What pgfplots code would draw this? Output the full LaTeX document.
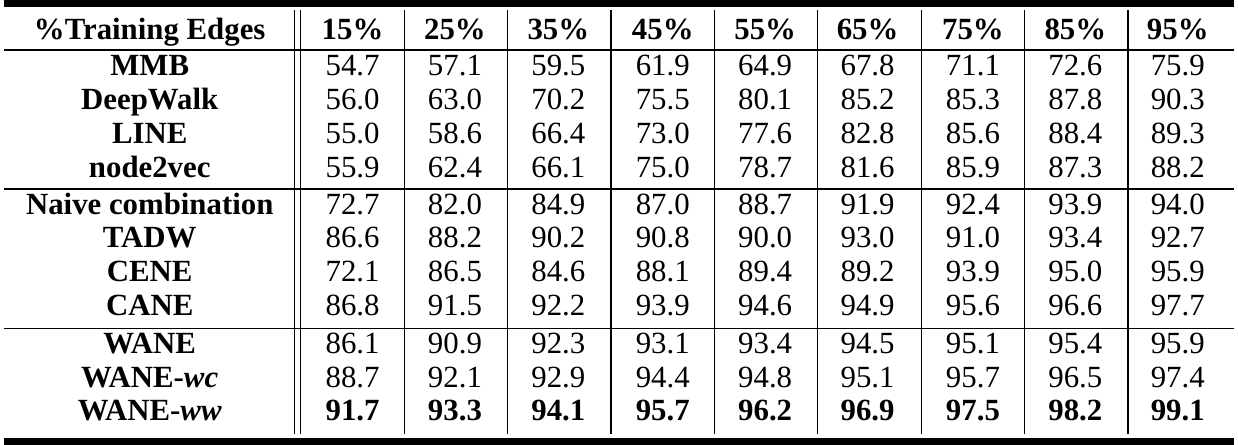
\documentclass[border=0pt]{standalone}
\usepackage{fontspec}
\setmainfont{Liberation Serif}
\usepackage{pgfplots}
\pgfplotsset{compat=1.18}
\protected\def\wanewc{WANE-\textit{wc}}
\protected\def\waneww{WANE-\textit{ww}}
\begin{document}
\begin{tikzpicture}
\begin{axis}[
    hide axis,
    x=0.5pt, y=0.5pt, y dir=reverse,
    xmin=0, xmax=1238, ymin=0, ymax=450,
    clip=false,
    cell/.style={only marks, mark=none, nodes near coords,
        point meta=explicit symbolic,
        nodes near coords style={anchor=base, black, inner sep=0pt,
            font=\fontsize{15.5}{18}\selectfont}},
    bcell/.style={cell, nodes near coords style={font=\fontsize{15.5}{18}\selectfont\bfseries}},
]
% rules
\addplot[black, line width=3.6pt] coordinates {(0,6.3) (1238,6.3)};
\addplot[black, line width=3.6pt] coordinates {(0,446.5) (1238,446.5)};
\addplot[black, line width=0.75pt] coordinates {(0,53) (1238,53)};
\addplot[black, line width=0.75pt] coordinates {(0,193) (1238,193)};
\addplot[black, line width=0.75pt] coordinates {(0,333) (1238,333)};
% column separators
\foreach \xs in {292.5,299,403,507,611,715,819,923,1027,1131} {
    \edef\tmp{\noexpand\addplot[black, line width=0.6pt] coordinates {(\xs,13) (\xs,439)};}
    \tmp
}
% header
\addplot[bcell] coordinates {(147,42)[\%Training Edges] (351,42)[15\%] (454,42)[25\%]
    (558,42)[35\%] (663,42)[45\%] (766,42)[55\%] (869,42)[65\%] (975,42)[75\%]
    (1078,42)[85\%] (1181,42)[95\%]};
% method names
\addplot[bcell] coordinates {(147,79)[MMB] (147,113)[DeepWalk] (147,147)[LINE]
    (147,181)[node2vec] (147,218)[Naive combination] (147,252)[TADW] (147,286)[CENE]
    (147,320)[CANE] (147,358)[WANE] (147,392)[\wanewc] (147,426)[\waneww]};
% values
\addplot[cell] coordinates {(351,79)[54.7] (454,79)[57.1] (558,79)[59.5] (663,79)[61.9]
    (766,79)[64.9] (869,79)[67.8] (975,79)[71.1] (1078,79)[72.6] (1181,79)[75.9]};
\addplot[cell] coordinates {(351,113)[56.0] (454,113)[63.0] (558,113)[70.2] (663,113)[75.5]
    (766,113)[80.1] (869,113)[85.2] (975,113)[85.3] (1078,113)[87.8] (1181,113)[90.3]};
\addplot[cell] coordinates {(351,147)[55.0] (454,147)[58.6] (558,147)[66.4] (663,147)[73.0]
    (766,147)[77.6] (869,147)[82.8] (975,147)[85.6] (1078,147)[88.4] (1181,147)[89.3]};
\addplot[cell] coordinates {(351,181)[55.9] (454,181)[62.4] (558,181)[66.1] (663,181)[75.0]
    (766,181)[78.7] (869,181)[81.6] (975,181)[85.9] (1078,181)[87.3] (1181,181)[88.2]};
\addplot[cell] coordinates {(351,218)[72.7] (454,218)[82.0] (558,218)[84.9] (663,218)[87.0]
    (766,218)[88.7] (869,218)[91.9] (975,218)[92.4] (1078,218)[93.9] (1181,218)[94.0]};
\addplot[cell] coordinates {(351,252)[86.6] (454,252)[88.2] (558,252)[90.2] (663,252)[90.8]
    (766,252)[90.0] (869,252)[93.0] (975,252)[91.0] (1078,252)[93.4] (1181,252)[92.7]};
\addplot[cell] coordinates {(351,286)[72.1] (454,286)[86.5] (558,286)[84.6] (663,286)[88.1]
    (766,286)[89.4] (869,286)[89.2] (975,286)[93.9] (1078,286)[95.0] (1181,286)[95.9]};
\addplot[cell] coordinates {(351,320)[86.8] (454,320)[91.5] (558,320)[92.2] (663,320)[93.9]
    (766,320)[94.6] (869,320)[94.9] (975,320)[95.6] (1078,320)[96.6] (1181,320)[97.7]};
\addplot[cell] coordinates {(351,358)[86.1] (454,358)[90.9] (558,358)[92.3] (663,358)[93.1]
    (766,358)[93.4] (869,358)[94.5] (975,358)[95.1] (1078,358)[95.4] (1181,358)[95.9]};
\addplot[cell] coordinates {(351,392)[88.7] (454,392)[92.1] (558,392)[92.9] (663,392)[94.4]
    (766,392)[94.8] (869,392)[95.1] (975,392)[95.7] (1078,392)[96.5] (1181,392)[97.4]};
\addplot[bcell] coordinates {(351,426)[91.7] (454,426)[93.3] (558,426)[94.1] (663,426)[95.7]
    (766,426)[96.2] (869,426)[96.9] (975,426)[97.5] (1078,426)[98.2] (1181,426)[99.1]};
\end{axis}
\end{tikzpicture}
\end{document}
